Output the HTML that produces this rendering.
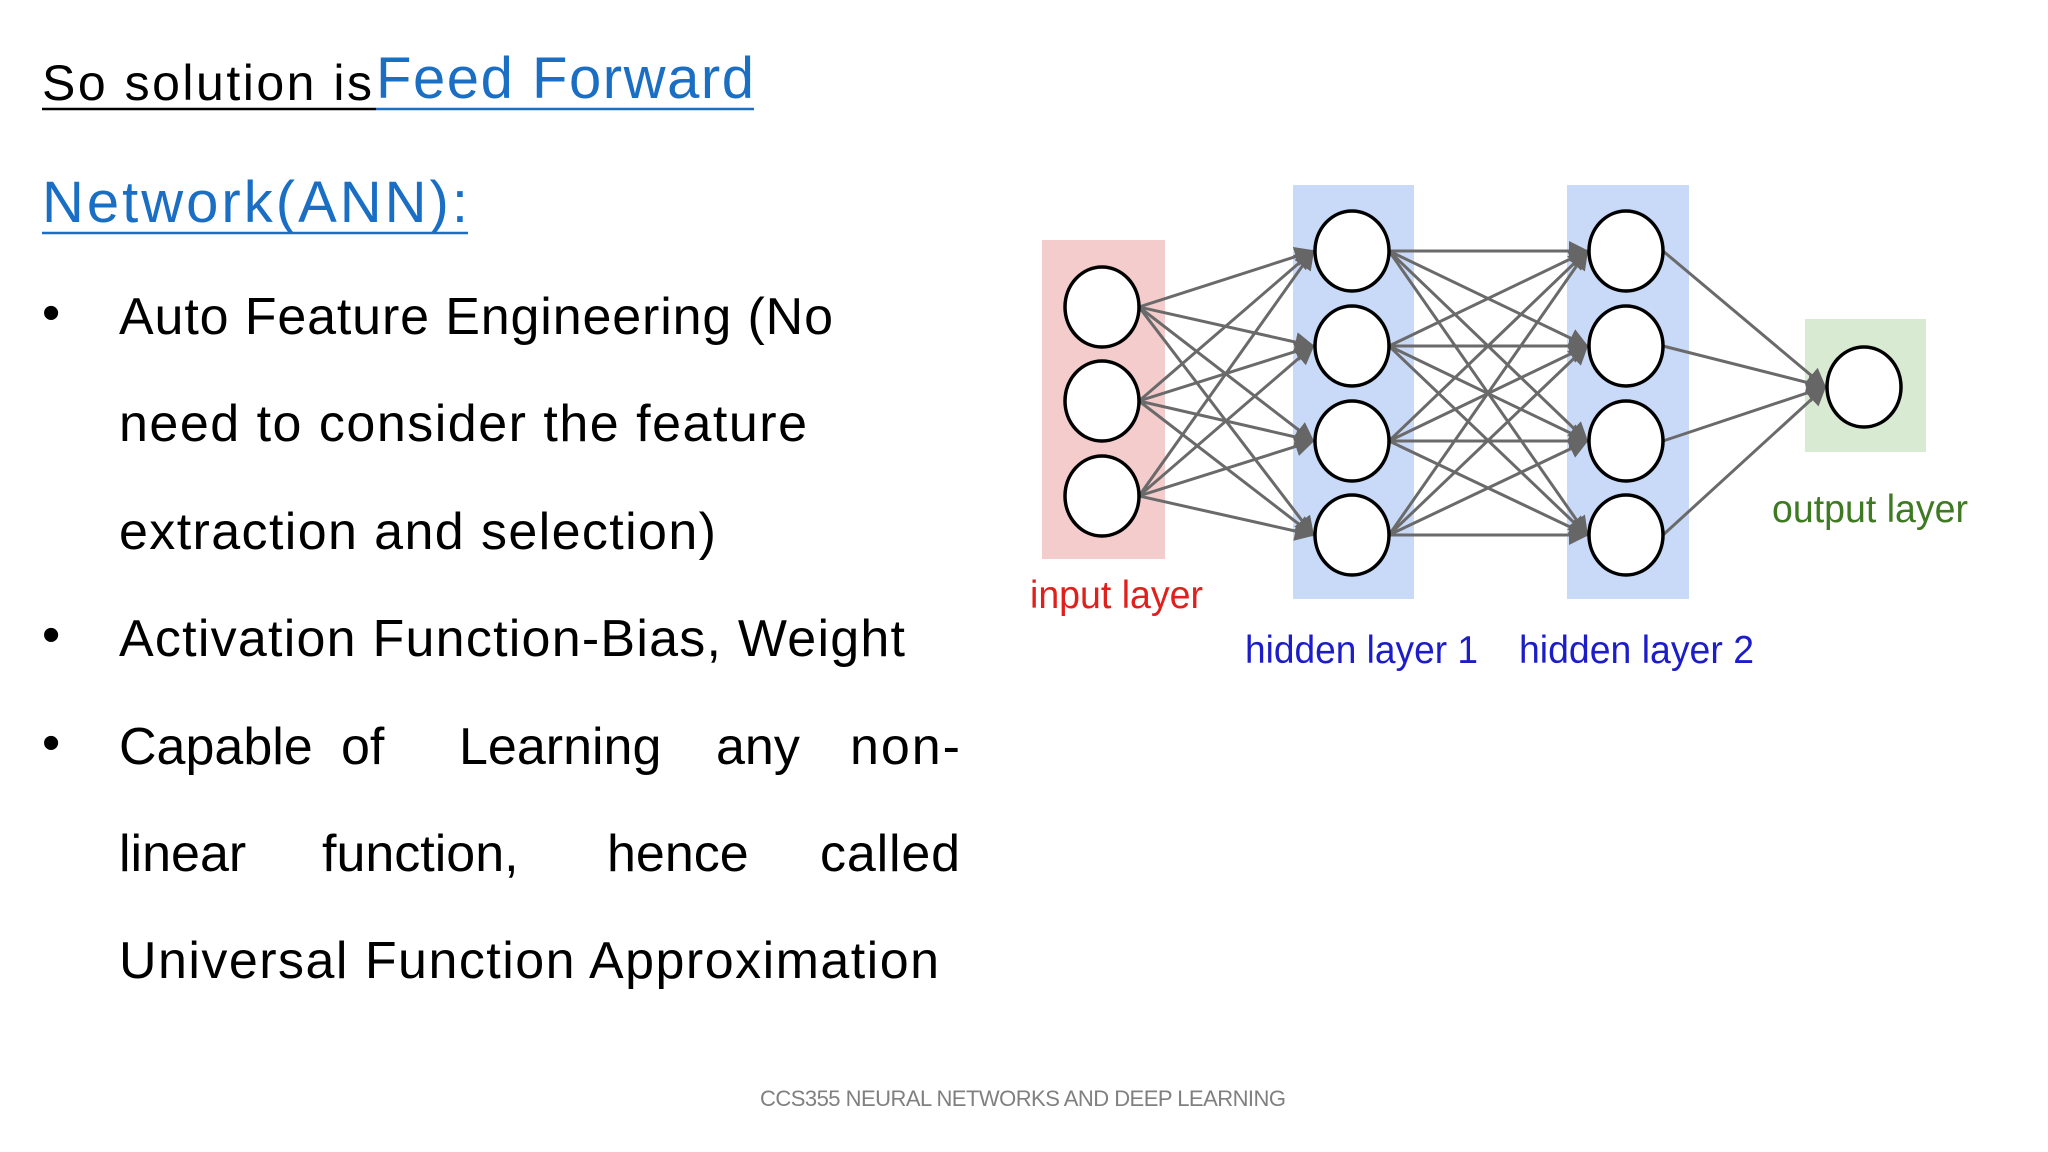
<!DOCTYPE html>
<html><head><meta charset="utf-8"><style>
html,body{margin:0;padding:0;background:#fff;}
svg{display:block;}
</style></head><body>
<svg width="2048" height="1152" viewBox="0 0 2048 1152" xmlns="http://www.w3.org/2000/svg" font-family="Liberation Sans, sans-serif">
<defs>
<marker id="a" markerWidth="8" markerHeight="8" refX="7" refY="4" orient="auto" markerUnits="userSpaceOnUse" viewBox="0 0 8 8">
</marker>
<marker id="ar" viewBox="0 0 10 10" refX="9" refY="5" markerWidth="20" markerHeight="20" markerUnits="userSpaceOnUse" orient="auto"><path d="M0,0 L10,5 L0,10 z" fill="#666"/></marker>
</defs>
<!-- Title -->
<text x="42" y="100" font-size="50" fill="#000" textLength="330">So solution is</text>
<line x1="42" y1="109" x2="376" y2="109" stroke="#000" stroke-width="2.5"/>
<text x="376" y="98" font-size="58" fill="#1a6fc4" textLength="378">Feed Forward</text>
<line x1="376" y1="109" x2="754" y2="109" stroke="#1a6fc4" stroke-width="2.5"/>
<text x="42" y="222" font-size="58" fill="#1a6fc4" textLength="426">Network(ANN):</text>
<line x1="42" y1="233" x2="468" y2="233" stroke="#1a6fc4" stroke-width="2.5"/>
<!-- bullets -->
<g font-size="52" fill="#000">
<text x="42" y="330">•</text>
<text x="119" y="334" textLength="714">Auto Feature Engineering (No</text>
<text x="119" y="441" textLength="688">need to consider the feature</text>
<text x="119" y="549" textLength="597">extraction and selection)</text>
<text x="42" y="652">•</text>
<text x="119" y="656" textLength="786">Activation Function-Bias, Weight</text>
<text x="42" y="760">•</text>
<text x="119" y="764">Capable</text><text x="341" y="764">of</text><text x="459" y="764">Learning</text><text x="716" y="764">any</text><text x="850" y="764" textLength="110">non-</text>
<text x="119" y="871">linear</text><text x="322" y="871">function,</text><text x="607" y="871">hence</text><text x="820" y="871" textLength="140">called</text>
<text x="119" y="978" textLength="820">Universal Function Approximation</text>
</g>
<text x="760" y="1106" font-size="22" fill="#808080" textLength="526">CCS355  NEURAL NETWORKS AND DEEP LEARNING</text>
<!-- diagram backgrounds -->
<rect x="1042" y="240" width="123" height="319" fill="#f4cccc"/>
<rect x="1293" y="185" width="121" height="414" fill="#c9daf8"/>
<rect x="1567" y="185" width="122" height="414" fill="#c9daf8"/>
<rect x="1805" y="319" width="121" height="133" fill="#d9ead3"/>
<!-- edges -->
<g stroke="#6a6a6a" stroke-width="3" marker-end="url(#ar)">
<!-- input to h1 -->
<line x1="1139" y1="307" x2="1313" y2="251"/><line x1="1139" y1="307" x2="1313" y2="346"/><line x1="1139" y1="307" x2="1313" y2="441"/><line x1="1139" y1="307" x2="1313" y2="535"/>
<line x1="1139" y1="401" x2="1313" y2="251"/><line x1="1139" y1="401" x2="1313" y2="346"/><line x1="1139" y1="401" x2="1313" y2="441"/><line x1="1139" y1="401" x2="1313" y2="535"/>
<line x1="1139" y1="496" x2="1313" y2="251"/><line x1="1139" y1="496" x2="1313" y2="346"/><line x1="1139" y1="496" x2="1313" y2="441"/><line x1="1139" y1="496" x2="1313" y2="535"/>
<!-- h1 to h2 -->
<line x1="1389" y1="251" x2="1587" y2="251"/><line x1="1389" y1="251" x2="1587" y2="346"/><line x1="1389" y1="251" x2="1587" y2="441"/><line x1="1389" y1="251" x2="1587" y2="535"/>
<line x1="1389" y1="346" x2="1587" y2="251"/><line x1="1389" y1="346" x2="1587" y2="346"/><line x1="1389" y1="346" x2="1587" y2="441"/><line x1="1389" y1="346" x2="1587" y2="535"/>
<line x1="1389" y1="441" x2="1587" y2="251"/><line x1="1389" y1="441" x2="1587" y2="346"/><line x1="1389" y1="441" x2="1587" y2="441"/><line x1="1389" y1="441" x2="1587" y2="535"/>
<line x1="1389" y1="535" x2="1587" y2="251"/><line x1="1389" y1="535" x2="1587" y2="346"/><line x1="1389" y1="535" x2="1587" y2="441"/><line x1="1389" y1="535" x2="1587" y2="535"/>
<!-- h2 to out -->
<line x1="1663" y1="251" x2="1825" y2="387"/><line x1="1663" y1="346" x2="1825" y2="387"/><line x1="1663" y1="441" x2="1825" y2="387"/><line x1="1663" y1="535" x2="1825" y2="387"/>
</g>
<!-- nodes -->
<g fill="#fff" stroke="#000" stroke-width="3.5">
<ellipse cx="1102" cy="307" rx="37" ry="40"/><ellipse cx="1102" cy="401" rx="37" ry="40"/><ellipse cx="1102" cy="496" rx="37" ry="40"/>
<ellipse cx="1352" cy="251" rx="37" ry="40"/><ellipse cx="1352" cy="346" rx="37" ry="40"/><ellipse cx="1352" cy="441" rx="37" ry="40"/><ellipse cx="1352" cy="535" rx="37" ry="40"/>
<ellipse cx="1626" cy="251" rx="37" ry="40"/><ellipse cx="1626" cy="346" rx="37" ry="40"/><ellipse cx="1626" cy="441" rx="37" ry="40"/><ellipse cx="1626" cy="535" rx="37" ry="40"/>
<ellipse cx="1864" cy="387" rx="37" ry="40"/>
</g>
<!-- labels -->
<text x="1030" y="608" font-size="39" fill="#e0201c" textLength="173" lengthAdjust="spacingAndGlyphs">input layer</text>
<text x="1245" y="663" font-size="39" fill="#1c1cc8" textLength="233" lengthAdjust="spacingAndGlyphs">hidden layer 1</text>
<text x="1519" y="663" font-size="39" fill="#1c1cc8" textLength="235" lengthAdjust="spacingAndGlyphs">hidden layer 2</text>
<text x="1772" y="522" font-size="39" fill="#3d7a22" textLength="196" lengthAdjust="spacingAndGlyphs">output layer</text>
</svg>
</body></html>
